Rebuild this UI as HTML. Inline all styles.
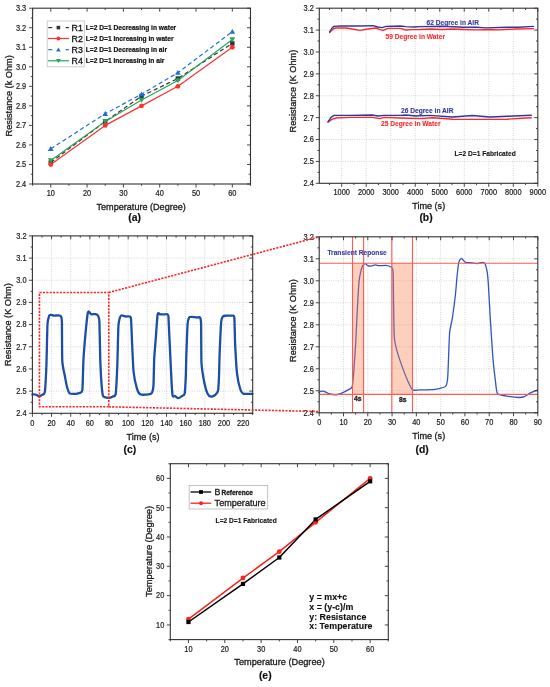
<!DOCTYPE html>
<html><head><meta charset="utf-8"><title>Figure</title>
<style>
html,body{margin:0;padding:0;background:#fff;}
body{width:550px;height:687px;overflow:hidden;}
svg{display:block;font-family:"Liberation Sans", Arial, sans-serif;}
</style></head>
<body>
<svg width="550" height="687" viewBox="0 0 550 687">
<rect width="550" height="687" fill="#fff"/>
<polyline points="50.76,162.51 105.23,121.49 141.55,96.1 177.87,78.52 232.34,43.36" fill="none" stroke="#333333" stroke-width="1.2" stroke-linejoin="round" stroke-dasharray="4.2 2.8" stroke-linecap="butt"/>
<polyline points="50.76,164.47 105.23,125.4 141.55,105.87 177.87,86.33 232.34,47.27" fill="none" stroke="#ff3030" stroke-width="1.2" stroke-linejoin="round" stroke-linecap="round"/>
<polyline points="50.76,148.84 105.23,113.68 141.55,94.15 177.87,72.66 232.34,31.64" fill="none" stroke="#1f6fd6" stroke-width="1.2" stroke-linejoin="round" stroke-dasharray="4.2 2.8" stroke-linecap="butt"/>
<polyline points="50.76,160.56 105.23,121.49 141.55,100.01 177.87,80.47 232.34,39.45" fill="none" stroke="#22a85a" stroke-width="1.2" stroke-linejoin="round" stroke-linecap="round"/>
<rect x="48.56" y="160.31" width="4.4" height="4.4" fill="#333333"/>
<rect x="103.03" y="119.29" width="4.4" height="4.4" fill="#333333"/>
<rect x="139.35" y="93.9" width="4.4" height="4.4" fill="#333333"/>
<rect x="175.67" y="76.32" width="4.4" height="4.4" fill="#333333"/>
<rect x="230.14" y="41.16" width="4.4" height="4.4" fill="#333333"/>
<circle cx="50.76" cy="164.47" r="2.42" fill="#ff3030"/>
<circle cx="105.23" cy="125.4" r="2.42" fill="#ff3030"/>
<circle cx="141.55" cy="105.87" r="2.42" fill="#ff3030"/>
<circle cx="177.87" cy="86.33" r="2.42" fill="#ff3030"/>
<circle cx="232.34" cy="47.27" r="2.42" fill="#ff3030"/>
<polygon points="50.76,146.09 47.87,151.04 53.65,151.04" fill="#1f6fd6"/>
<polygon points="105.23,110.93 102.35,115.88 108.12,115.88" fill="#1f6fd6"/>
<polygon points="141.55,91.4 138.66,96.35 144.44,96.35" fill="#1f6fd6"/>
<polygon points="177.87,69.91 174.98,74.86 180.75,74.86" fill="#1f6fd6"/>
<polygon points="232.34,28.89 229.45,33.84 235.23,33.84" fill="#1f6fd6"/>
<polygon points="50.76,163.31 47.87,158.36 53.65,158.36" fill="#22a85a"/>
<polygon points="105.23,124.24 102.35,119.29 108.12,119.29" fill="#22a85a"/>
<polygon points="141.55,102.76 138.66,97.81 144.44,97.81" fill="#22a85a"/>
<polygon points="177.87,83.22 174.98,78.27 180.75,78.27" fill="#22a85a"/>
<polygon points="232.34,42.2 229.45,37.25 235.23,37.25" fill="#22a85a"/>
<rect x="32.6" y="8.2" width="217.9" height="175.8" fill="none" stroke="#333" stroke-width="1.1"/>
<line x1="50.76" y1="184" x2="50.76" y2="187.5" stroke="#333" stroke-width="0.9"/>
<line x1="50.76" y1="8.2" x2="50.76" y2="11.7" stroke="#333" stroke-width="0.9"/>
<line x1="87.08" y1="184" x2="87.08" y2="187.5" stroke="#333" stroke-width="0.9"/>
<line x1="87.08" y1="8.2" x2="87.08" y2="11.7" stroke="#333" stroke-width="0.9"/>
<line x1="123.39" y1="184" x2="123.39" y2="187.5" stroke="#333" stroke-width="0.9"/>
<line x1="123.39" y1="8.2" x2="123.39" y2="11.7" stroke="#333" stroke-width="0.9"/>
<line x1="159.71" y1="184" x2="159.71" y2="187.5" stroke="#333" stroke-width="0.9"/>
<line x1="159.71" y1="8.2" x2="159.71" y2="11.7" stroke="#333" stroke-width="0.9"/>
<line x1="196.03" y1="184" x2="196.03" y2="187.5" stroke="#333" stroke-width="0.9"/>
<line x1="196.03" y1="8.2" x2="196.03" y2="11.7" stroke="#333" stroke-width="0.9"/>
<line x1="232.34" y1="184" x2="232.34" y2="187.5" stroke="#333" stroke-width="0.9"/>
<line x1="232.34" y1="8.2" x2="232.34" y2="11.7" stroke="#333" stroke-width="0.9"/>
<line x1="32.6" y1="184" x2="32.6" y2="185.8" stroke="#333" stroke-width="0.9"/>
<line x1="32.6" y1="8.2" x2="32.6" y2="10" stroke="#333" stroke-width="0.9"/>
<line x1="68.92" y1="184" x2="68.92" y2="185.8" stroke="#333" stroke-width="0.9"/>
<line x1="68.92" y1="8.2" x2="68.92" y2="10" stroke="#333" stroke-width="0.9"/>
<line x1="105.23" y1="184" x2="105.23" y2="185.8" stroke="#333" stroke-width="0.9"/>
<line x1="105.23" y1="8.2" x2="105.23" y2="10" stroke="#333" stroke-width="0.9"/>
<line x1="141.55" y1="184" x2="141.55" y2="185.8" stroke="#333" stroke-width="0.9"/>
<line x1="141.55" y1="8.2" x2="141.55" y2="10" stroke="#333" stroke-width="0.9"/>
<line x1="177.87" y1="184" x2="177.87" y2="185.8" stroke="#333" stroke-width="0.9"/>
<line x1="177.87" y1="8.2" x2="177.87" y2="10" stroke="#333" stroke-width="0.9"/>
<line x1="214.18" y1="184" x2="214.18" y2="185.8" stroke="#333" stroke-width="0.9"/>
<line x1="214.18" y1="8.2" x2="214.18" y2="10" stroke="#333" stroke-width="0.9"/>
<line x1="250.5" y1="184" x2="250.5" y2="185.8" stroke="#333" stroke-width="0.9"/>
<line x1="250.5" y1="8.2" x2="250.5" y2="10" stroke="#333" stroke-width="0.9"/>
<line x1="29.1" y1="184" x2="32.6" y2="184" stroke="#333" stroke-width="0.9"/>
<line x1="247" y1="184" x2="250.5" y2="184" stroke="#333" stroke-width="0.9"/>
<line x1="29.1" y1="164.47" x2="32.6" y2="164.47" stroke="#333" stroke-width="0.9"/>
<line x1="247" y1="164.47" x2="250.5" y2="164.47" stroke="#333" stroke-width="0.9"/>
<line x1="29.1" y1="144.93" x2="32.6" y2="144.93" stroke="#333" stroke-width="0.9"/>
<line x1="247" y1="144.93" x2="250.5" y2="144.93" stroke="#333" stroke-width="0.9"/>
<line x1="29.1" y1="125.4" x2="32.6" y2="125.4" stroke="#333" stroke-width="0.9"/>
<line x1="247" y1="125.4" x2="250.5" y2="125.4" stroke="#333" stroke-width="0.9"/>
<line x1="29.1" y1="105.87" x2="32.6" y2="105.87" stroke="#333" stroke-width="0.9"/>
<line x1="247" y1="105.87" x2="250.5" y2="105.87" stroke="#333" stroke-width="0.9"/>
<line x1="29.1" y1="86.33" x2="32.6" y2="86.33" stroke="#333" stroke-width="0.9"/>
<line x1="247" y1="86.33" x2="250.5" y2="86.33" stroke="#333" stroke-width="0.9"/>
<line x1="29.1" y1="66.8" x2="32.6" y2="66.8" stroke="#333" stroke-width="0.9"/>
<line x1="247" y1="66.8" x2="250.5" y2="66.8" stroke="#333" stroke-width="0.9"/>
<line x1="29.1" y1="47.27" x2="32.6" y2="47.27" stroke="#333" stroke-width="0.9"/>
<line x1="247" y1="47.27" x2="250.5" y2="47.27" stroke="#333" stroke-width="0.9"/>
<line x1="29.1" y1="27.73" x2="32.6" y2="27.73" stroke="#333" stroke-width="0.9"/>
<line x1="247" y1="27.73" x2="250.5" y2="27.73" stroke="#333" stroke-width="0.9"/>
<line x1="29.1" y1="8.2" x2="32.6" y2="8.2" stroke="#333" stroke-width="0.9"/>
<line x1="247" y1="8.2" x2="250.5" y2="8.2" stroke="#333" stroke-width="0.9"/>
<line x1="30.8" y1="174.23" x2="32.6" y2="174.23" stroke="#333" stroke-width="0.9"/>
<line x1="248.7" y1="174.23" x2="250.5" y2="174.23" stroke="#333" stroke-width="0.9"/>
<line x1="30.8" y1="154.7" x2="32.6" y2="154.7" stroke="#333" stroke-width="0.9"/>
<line x1="248.7" y1="154.7" x2="250.5" y2="154.7" stroke="#333" stroke-width="0.9"/>
<line x1="30.8" y1="135.17" x2="32.6" y2="135.17" stroke="#333" stroke-width="0.9"/>
<line x1="248.7" y1="135.17" x2="250.5" y2="135.17" stroke="#333" stroke-width="0.9"/>
<line x1="30.8" y1="115.63" x2="32.6" y2="115.63" stroke="#333" stroke-width="0.9"/>
<line x1="248.7" y1="115.63" x2="250.5" y2="115.63" stroke="#333" stroke-width="0.9"/>
<line x1="30.8" y1="96.1" x2="32.6" y2="96.1" stroke="#333" stroke-width="0.9"/>
<line x1="248.7" y1="96.1" x2="250.5" y2="96.1" stroke="#333" stroke-width="0.9"/>
<line x1="30.8" y1="76.57" x2="32.6" y2="76.57" stroke="#333" stroke-width="0.9"/>
<line x1="248.7" y1="76.57" x2="250.5" y2="76.57" stroke="#333" stroke-width="0.9"/>
<line x1="30.8" y1="57.03" x2="32.6" y2="57.03" stroke="#333" stroke-width="0.9"/>
<line x1="248.7" y1="57.03" x2="250.5" y2="57.03" stroke="#333" stroke-width="0.9"/>
<line x1="30.8" y1="37.5" x2="32.6" y2="37.5" stroke="#333" stroke-width="0.9"/>
<line x1="248.7" y1="37.5" x2="250.5" y2="37.5" stroke="#333" stroke-width="0.9"/>
<line x1="30.8" y1="17.97" x2="32.6" y2="17.97" stroke="#333" stroke-width="0.9"/>
<line x1="248.7" y1="17.97" x2="250.5" y2="17.97" stroke="#333" stroke-width="0.9"/>
<text transform="translate(50.76 195.7) scale(1 1.12)" font-size="7.4" text-anchor="middle" fill="#1a1a1a" stroke="#1a1a1a" stroke-width="0.18">10</text>
<text transform="translate(87.08 195.7) scale(1 1.12)" font-size="7.4" text-anchor="middle" fill="#1a1a1a" stroke="#1a1a1a" stroke-width="0.18">20</text>
<text transform="translate(123.39 195.7) scale(1 1.12)" font-size="7.4" text-anchor="middle" fill="#1a1a1a" stroke="#1a1a1a" stroke-width="0.18">30</text>
<text transform="translate(159.71 195.7) scale(1 1.12)" font-size="7.4" text-anchor="middle" fill="#1a1a1a" stroke="#1a1a1a" stroke-width="0.18">40</text>
<text transform="translate(196.03 195.7) scale(1 1.12)" font-size="7.4" text-anchor="middle" fill="#1a1a1a" stroke="#1a1a1a" stroke-width="0.18">50</text>
<text transform="translate(232.34 195.7) scale(1 1.12)" font-size="7.4" text-anchor="middle" fill="#1a1a1a" stroke="#1a1a1a" stroke-width="0.18">60</text>
<text transform="translate(26.2 186.87) scale(1 1.12)" font-size="7.4" text-anchor="end" fill="#1a1a1a" stroke="#1a1a1a" stroke-width="0.18">2.4</text>
<text transform="translate(26.2 167.33) scale(1 1.12)" font-size="7.4" text-anchor="end" fill="#1a1a1a" stroke="#1a1a1a" stroke-width="0.18">2.5</text>
<text transform="translate(26.2 147.8) scale(1 1.12)" font-size="7.4" text-anchor="end" fill="#1a1a1a" stroke="#1a1a1a" stroke-width="0.18">2.6</text>
<text transform="translate(26.2 128.27) scale(1 1.12)" font-size="7.4" text-anchor="end" fill="#1a1a1a" stroke="#1a1a1a" stroke-width="0.18">2.7</text>
<text transform="translate(26.2 108.73) scale(1 1.12)" font-size="7.4" text-anchor="end" fill="#1a1a1a" stroke="#1a1a1a" stroke-width="0.18">2.8</text>
<text transform="translate(26.2 89.2) scale(1 1.12)" font-size="7.4" text-anchor="end" fill="#1a1a1a" stroke="#1a1a1a" stroke-width="0.18">2.9</text>
<text transform="translate(26.2 69.67) scale(1 1.12)" font-size="7.4" text-anchor="end" fill="#1a1a1a" stroke="#1a1a1a" stroke-width="0.18">3.0</text>
<text transform="translate(26.2 50.13) scale(1 1.12)" font-size="7.4" text-anchor="end" fill="#1a1a1a" stroke="#1a1a1a" stroke-width="0.18">3.1</text>
<text transform="translate(26.2 30.6) scale(1 1.12)" font-size="7.4" text-anchor="end" fill="#1a1a1a" stroke="#1a1a1a" stroke-width="0.18">3.2</text>
<text transform="translate(26.2 11.07) scale(1 1.12)" font-size="7.4" text-anchor="end" fill="#1a1a1a" stroke="#1a1a1a" stroke-width="0.18">3.3</text>
<rect x="47.2" y="21.0" width="37.1" height="45.8" fill="#fff" stroke="#c8c8c8" stroke-width="0.9"/>
<line x1="48.3" y1="27.6" x2="52.3" y2="27.6" stroke="#333333" stroke-width="1.2"/>
<line x1="65.6" y1="27.6" x2="69" y2="27.6" stroke="#333333" stroke-width="1.2"/>
<rect x="56.6" y="25.8" width="3.6" height="3.6" fill="#333333"/>
<text transform="translate(71.6 30.97) scale(1 1.07)" font-size="8.8" text-anchor="start" fill="#111" stroke="#111" stroke-width="0.3">R1</text>
<text transform="translate(85.8 29.8) scale(1 1.12)" font-size="6.65" text-anchor="start" font-weight="bold" fill="#111" stroke="#111" stroke-width="0.2">L=2 D=1 Decreasing in water</text>
<line x1="48.1" y1="38.5" x2="69" y2="38.5" stroke="#ff3030" stroke-width="1.2"/>
<circle cx="58.4" cy="38.5" r="1.98" fill="#ff3030"/>
<text transform="translate(71.6 41.87) scale(1 1.07)" font-size="8.8" text-anchor="start" fill="#111" stroke="#111" stroke-width="0.3">R2</text>
<text transform="translate(85.8 40.7) scale(1 1.12)" font-size="6.65" text-anchor="start" font-weight="bold" fill="#111" stroke="#111" stroke-width="0.2">L=2 D=1 Increasing in water</text>
<line x1="48.3" y1="49.7" x2="52.3" y2="49.7" stroke="#1f6fd6" stroke-width="1.2"/>
<line x1="65.6" y1="49.7" x2="69" y2="49.7" stroke="#1f6fd6" stroke-width="1.2"/>
<polygon points="58.4,47.45 56.04,51.5 60.76,51.5" fill="#1f6fd6"/>
<text transform="translate(71.6 53.07) scale(1 1.07)" font-size="8.8" text-anchor="start" fill="#111" stroke="#111" stroke-width="0.3">R3</text>
<text transform="translate(85.8 51.9) scale(1 1.12)" font-size="6.65" text-anchor="start" font-weight="bold" fill="#111" stroke="#111" stroke-width="0.2">L=2 D=1 Decreasing in air</text>
<line x1="48.1" y1="60.8" x2="69" y2="60.8" stroke="#22a85a" stroke-width="1.2"/>
<polygon points="58.4,63.05 56.04,59 60.76,59" fill="#22a85a"/>
<text transform="translate(71.6 64.17) scale(1 1.07)" font-size="8.8" text-anchor="start" fill="#111" stroke="#111" stroke-width="0.3">R4</text>
<text transform="translate(85.8 63) scale(1 1.12)" font-size="6.65" text-anchor="start" font-weight="bold" fill="#111" stroke="#111" stroke-width="0.2">L=2 D=1 Increasing in air</text>
<text transform="translate(141.2 209.8) scale(1 1.07)" font-size="9.1" text-anchor="middle" fill="#1a1a1a" stroke="#1a1a1a" stroke-width="0.3">Temperature (Degree)</text>
<text transform="translate(134.65 220.8) scale(1 1)" font-size="10.4" text-anchor="middle" font-weight="bold" fill="#111" stroke="#111" stroke-width="0.15">(a)</text>
<text x="0" y="0" font-size="9.2" fill="#1a1a1a" stroke="#1a1a1a" stroke-width="0.3" transform="translate(12.3 136.4) rotate(-90) scale(1 1)">Resistance (k Ohm)</text>
<line x1="341.7" y1="8.2" x2="341.7" y2="183.3" stroke="#c6c6c6" stroke-width="0.8" stroke-dasharray="0.9 1.45"/>
<line x1="366.21" y1="8.2" x2="366.21" y2="183.3" stroke="#c6c6c6" stroke-width="0.8" stroke-dasharray="0.9 1.45"/>
<line x1="390.72" y1="8.2" x2="390.72" y2="183.3" stroke="#c6c6c6" stroke-width="0.8" stroke-dasharray="0.9 1.45"/>
<line x1="415.24" y1="8.2" x2="415.24" y2="183.3" stroke="#c6c6c6" stroke-width="0.8" stroke-dasharray="0.9 1.45"/>
<line x1="439.75" y1="8.2" x2="439.75" y2="183.3" stroke="#c6c6c6" stroke-width="0.8" stroke-dasharray="0.9 1.45"/>
<line x1="464.26" y1="8.2" x2="464.26" y2="183.3" stroke="#c6c6c6" stroke-width="0.8" stroke-dasharray="0.9 1.45"/>
<line x1="488.77" y1="8.2" x2="488.77" y2="183.3" stroke="#c6c6c6" stroke-width="0.8" stroke-dasharray="0.9 1.45"/>
<line x1="513.29" y1="8.2" x2="513.29" y2="183.3" stroke="#c6c6c6" stroke-width="0.8" stroke-dasharray="0.9 1.45"/>
<line x1="319.3" y1="161.41" x2="537.8" y2="161.41" stroke="#c6c6c6" stroke-width="0.8" stroke-dasharray="0.9 1.45"/>
<line x1="319.3" y1="139.52" x2="537.8" y2="139.52" stroke="#c6c6c6" stroke-width="0.8" stroke-dasharray="0.9 1.45"/>
<line x1="319.3" y1="117.64" x2="537.8" y2="117.64" stroke="#c6c6c6" stroke-width="0.8" stroke-dasharray="0.9 1.45"/>
<line x1="319.3" y1="95.75" x2="537.8" y2="95.75" stroke="#c6c6c6" stroke-width="0.8" stroke-dasharray="0.9 1.45"/>
<line x1="319.3" y1="73.86" x2="537.8" y2="73.86" stroke="#c6c6c6" stroke-width="0.8" stroke-dasharray="0.9 1.45"/>
<line x1="319.3" y1="51.98" x2="537.8" y2="51.98" stroke="#c6c6c6" stroke-width="0.8" stroke-dasharray="0.9 1.45"/>
<line x1="319.3" y1="30.09" x2="537.8" y2="30.09" stroke="#c6c6c6" stroke-width="0.8" stroke-dasharray="0.9 1.45"/>
<polyline points="329.6,32.4 333,29 336,28 346,28 352,29 360,30.4 368,29 376,28 380,29.6 383,30.4 388,28.4 400,28.4 406,30 412,29.6 420,29.5 431,29 441.8,29.5 452.7,29 463.6,29.5 476.7,29.9 489.8,29.5 498.5,29.9 516,29 533.5,28.6" fill="none" stroke="#ff2828" stroke-width="1.4" stroke-linejoin="round" stroke-linecap="round"/>
<polyline points="329.6,32 332,28 334,26.4 340,26 360,26 373,25.6 378,27 382,27.6 386,26.4 400,26 406,26.6 414,27 420,26.6 441.8,26.2 463.6,27.3 476.7,27.3 485.5,27.9 507.3,27.3 518.2,27.3 533.5,26.4" fill="none" stroke="#3236a0" stroke-width="1.4" stroke-linejoin="round" stroke-linecap="round"/>
<polyline points="328,122 332,119.4 336,118 350,117.4 372,117.4 380,118.6 384,117.4 400,118 420,118.6 433,117.7 452.7,119.2 485.5,119.4 507.3,119.2 531.3,117.7" fill="none" stroke="#ff2828" stroke-width="1.4" stroke-linejoin="round" stroke-linecap="round"/>
<polyline points="328,122 331,117.4 334,115.4 350,115.4 372,115 378,116 384,115.4 400,115.4 406,115 416,116 430,115.4 452.7,117 472.4,115.5 489.8,117 507.3,116.3 531.3,115.3" fill="none" stroke="#3236a0" stroke-width="1.4" stroke-linejoin="round" stroke-linecap="round"/>
<rect x="319.3" y="8.2" width="218.5" height="175.1" fill="none" stroke="#333" stroke-width="1.1"/>
<line x1="341.7" y1="183.3" x2="341.7" y2="186.8" stroke="#333" stroke-width="0.9"/>
<line x1="341.7" y1="8.2" x2="341.7" y2="11.7" stroke="#333" stroke-width="0.9"/>
<line x1="366.21" y1="183.3" x2="366.21" y2="186.8" stroke="#333" stroke-width="0.9"/>
<line x1="366.21" y1="8.2" x2="366.21" y2="11.7" stroke="#333" stroke-width="0.9"/>
<line x1="390.72" y1="183.3" x2="390.72" y2="186.8" stroke="#333" stroke-width="0.9"/>
<line x1="390.72" y1="8.2" x2="390.72" y2="11.7" stroke="#333" stroke-width="0.9"/>
<line x1="415.24" y1="183.3" x2="415.24" y2="186.8" stroke="#333" stroke-width="0.9"/>
<line x1="415.24" y1="8.2" x2="415.24" y2="11.7" stroke="#333" stroke-width="0.9"/>
<line x1="439.75" y1="183.3" x2="439.75" y2="186.8" stroke="#333" stroke-width="0.9"/>
<line x1="439.75" y1="8.2" x2="439.75" y2="11.7" stroke="#333" stroke-width="0.9"/>
<line x1="464.26" y1="183.3" x2="464.26" y2="186.8" stroke="#333" stroke-width="0.9"/>
<line x1="464.26" y1="8.2" x2="464.26" y2="11.7" stroke="#333" stroke-width="0.9"/>
<line x1="488.77" y1="183.3" x2="488.77" y2="186.8" stroke="#333" stroke-width="0.9"/>
<line x1="488.77" y1="8.2" x2="488.77" y2="11.7" stroke="#333" stroke-width="0.9"/>
<line x1="513.29" y1="183.3" x2="513.29" y2="186.8" stroke="#333" stroke-width="0.9"/>
<line x1="513.29" y1="8.2" x2="513.29" y2="11.7" stroke="#333" stroke-width="0.9"/>
<line x1="537.8" y1="183.3" x2="537.8" y2="186.8" stroke="#333" stroke-width="0.9"/>
<line x1="537.8" y1="8.2" x2="537.8" y2="11.7" stroke="#333" stroke-width="0.9"/>
<line x1="329.44" y1="183.3" x2="329.44" y2="185.1" stroke="#333" stroke-width="0.9"/>
<line x1="329.44" y1="8.2" x2="329.44" y2="10" stroke="#333" stroke-width="0.9"/>
<line x1="353.96" y1="183.3" x2="353.96" y2="185.1" stroke="#333" stroke-width="0.9"/>
<line x1="353.96" y1="8.2" x2="353.96" y2="10" stroke="#333" stroke-width="0.9"/>
<line x1="378.47" y1="183.3" x2="378.47" y2="185.1" stroke="#333" stroke-width="0.9"/>
<line x1="378.47" y1="8.2" x2="378.47" y2="10" stroke="#333" stroke-width="0.9"/>
<line x1="402.98" y1="183.3" x2="402.98" y2="185.1" stroke="#333" stroke-width="0.9"/>
<line x1="402.98" y1="8.2" x2="402.98" y2="10" stroke="#333" stroke-width="0.9"/>
<line x1="427.49" y1="183.3" x2="427.49" y2="185.1" stroke="#333" stroke-width="0.9"/>
<line x1="427.49" y1="8.2" x2="427.49" y2="10" stroke="#333" stroke-width="0.9"/>
<line x1="452.01" y1="183.3" x2="452.01" y2="185.1" stroke="#333" stroke-width="0.9"/>
<line x1="452.01" y1="8.2" x2="452.01" y2="10" stroke="#333" stroke-width="0.9"/>
<line x1="476.52" y1="183.3" x2="476.52" y2="185.1" stroke="#333" stroke-width="0.9"/>
<line x1="476.52" y1="8.2" x2="476.52" y2="10" stroke="#333" stroke-width="0.9"/>
<line x1="501.03" y1="183.3" x2="501.03" y2="185.1" stroke="#333" stroke-width="0.9"/>
<line x1="501.03" y1="8.2" x2="501.03" y2="10" stroke="#333" stroke-width="0.9"/>
<line x1="525.54" y1="183.3" x2="525.54" y2="185.1" stroke="#333" stroke-width="0.9"/>
<line x1="525.54" y1="8.2" x2="525.54" y2="10" stroke="#333" stroke-width="0.9"/>
<line x1="315.8" y1="183.3" x2="319.3" y2="183.3" stroke="#333" stroke-width="0.9"/>
<line x1="534.3" y1="183.3" x2="537.8" y2="183.3" stroke="#333" stroke-width="0.9"/>
<line x1="315.8" y1="161.41" x2="319.3" y2="161.41" stroke="#333" stroke-width="0.9"/>
<line x1="534.3" y1="161.41" x2="537.8" y2="161.41" stroke="#333" stroke-width="0.9"/>
<line x1="315.8" y1="139.52" x2="319.3" y2="139.52" stroke="#333" stroke-width="0.9"/>
<line x1="534.3" y1="139.52" x2="537.8" y2="139.52" stroke="#333" stroke-width="0.9"/>
<line x1="315.8" y1="117.64" x2="319.3" y2="117.64" stroke="#333" stroke-width="0.9"/>
<line x1="534.3" y1="117.64" x2="537.8" y2="117.64" stroke="#333" stroke-width="0.9"/>
<line x1="315.8" y1="95.75" x2="319.3" y2="95.75" stroke="#333" stroke-width="0.9"/>
<line x1="534.3" y1="95.75" x2="537.8" y2="95.75" stroke="#333" stroke-width="0.9"/>
<line x1="315.8" y1="73.86" x2="319.3" y2="73.86" stroke="#333" stroke-width="0.9"/>
<line x1="534.3" y1="73.86" x2="537.8" y2="73.86" stroke="#333" stroke-width="0.9"/>
<line x1="315.8" y1="51.98" x2="319.3" y2="51.98" stroke="#333" stroke-width="0.9"/>
<line x1="534.3" y1="51.98" x2="537.8" y2="51.98" stroke="#333" stroke-width="0.9"/>
<line x1="315.8" y1="30.09" x2="319.3" y2="30.09" stroke="#333" stroke-width="0.9"/>
<line x1="534.3" y1="30.09" x2="537.8" y2="30.09" stroke="#333" stroke-width="0.9"/>
<line x1="315.8" y1="8.2" x2="319.3" y2="8.2" stroke="#333" stroke-width="0.9"/>
<line x1="534.3" y1="8.2" x2="537.8" y2="8.2" stroke="#333" stroke-width="0.9"/>
<line x1="317.5" y1="172.36" x2="319.3" y2="172.36" stroke="#333" stroke-width="0.9"/>
<line x1="536" y1="172.36" x2="537.8" y2="172.36" stroke="#333" stroke-width="0.9"/>
<line x1="317.5" y1="150.47" x2="319.3" y2="150.47" stroke="#333" stroke-width="0.9"/>
<line x1="536" y1="150.47" x2="537.8" y2="150.47" stroke="#333" stroke-width="0.9"/>
<line x1="317.5" y1="128.58" x2="319.3" y2="128.58" stroke="#333" stroke-width="0.9"/>
<line x1="536" y1="128.58" x2="537.8" y2="128.58" stroke="#333" stroke-width="0.9"/>
<line x1="317.5" y1="106.69" x2="319.3" y2="106.69" stroke="#333" stroke-width="0.9"/>
<line x1="536" y1="106.69" x2="537.8" y2="106.69" stroke="#333" stroke-width="0.9"/>
<line x1="317.5" y1="84.81" x2="319.3" y2="84.81" stroke="#333" stroke-width="0.9"/>
<line x1="536" y1="84.81" x2="537.8" y2="84.81" stroke="#333" stroke-width="0.9"/>
<line x1="317.5" y1="62.92" x2="319.3" y2="62.92" stroke="#333" stroke-width="0.9"/>
<line x1="536" y1="62.92" x2="537.8" y2="62.92" stroke="#333" stroke-width="0.9"/>
<line x1="317.5" y1="41.03" x2="319.3" y2="41.03" stroke="#333" stroke-width="0.9"/>
<line x1="536" y1="41.03" x2="537.8" y2="41.03" stroke="#333" stroke-width="0.9"/>
<line x1="317.5" y1="19.14" x2="319.3" y2="19.14" stroke="#333" stroke-width="0.9"/>
<line x1="536" y1="19.14" x2="537.8" y2="19.14" stroke="#333" stroke-width="0.9"/>
<text transform="translate(341.7 195.3) scale(1 1.12)" font-size="7.4" text-anchor="middle" fill="#1a1a1a" stroke="#1a1a1a" stroke-width="0.18">1000</text>
<text transform="translate(366.21 195.3) scale(1 1.12)" font-size="7.4" text-anchor="middle" fill="#1a1a1a" stroke="#1a1a1a" stroke-width="0.18">2000</text>
<text transform="translate(390.72 195.3) scale(1 1.12)" font-size="7.4" text-anchor="middle" fill="#1a1a1a" stroke="#1a1a1a" stroke-width="0.18">3000</text>
<text transform="translate(415.24 195.3) scale(1 1.12)" font-size="7.4" text-anchor="middle" fill="#1a1a1a" stroke="#1a1a1a" stroke-width="0.18">4000</text>
<text transform="translate(439.75 195.3) scale(1 1.12)" font-size="7.4" text-anchor="middle" fill="#1a1a1a" stroke="#1a1a1a" stroke-width="0.18">5000</text>
<text transform="translate(464.26 195.3) scale(1 1.12)" font-size="7.4" text-anchor="middle" fill="#1a1a1a" stroke="#1a1a1a" stroke-width="0.18">6000</text>
<text transform="translate(488.77 195.3) scale(1 1.12)" font-size="7.4" text-anchor="middle" fill="#1a1a1a" stroke="#1a1a1a" stroke-width="0.18">7000</text>
<text transform="translate(513.29 195.3) scale(1 1.12)" font-size="7.4" text-anchor="middle" fill="#1a1a1a" stroke="#1a1a1a" stroke-width="0.18">8000</text>
<text transform="translate(537.8 195.3) scale(1 1.12)" font-size="7.4" text-anchor="middle" fill="#1a1a1a" stroke="#1a1a1a" stroke-width="0.18">9000</text>
<text transform="translate(313.8 186.17) scale(1 1.12)" font-size="7.4" text-anchor="end" fill="#1a1a1a" stroke="#1a1a1a" stroke-width="0.18">2.4</text>
<text transform="translate(313.8 164.28) scale(1 1.12)" font-size="7.4" text-anchor="end" fill="#1a1a1a" stroke="#1a1a1a" stroke-width="0.18">2.5</text>
<text transform="translate(313.8 142.39) scale(1 1.12)" font-size="7.4" text-anchor="end" fill="#1a1a1a" stroke="#1a1a1a" stroke-width="0.18">2.6</text>
<text transform="translate(313.8 120.5) scale(1 1.12)" font-size="7.4" text-anchor="end" fill="#1a1a1a" stroke="#1a1a1a" stroke-width="0.18">2.7</text>
<text transform="translate(313.8 98.62) scale(1 1.12)" font-size="7.4" text-anchor="end" fill="#1a1a1a" stroke="#1a1a1a" stroke-width="0.18">2.8</text>
<text transform="translate(313.8 76.73) scale(1 1.12)" font-size="7.4" text-anchor="end" fill="#1a1a1a" stroke="#1a1a1a" stroke-width="0.18">2.9</text>
<text transform="translate(313.8 54.84) scale(1 1.12)" font-size="7.4" text-anchor="end" fill="#1a1a1a" stroke="#1a1a1a" stroke-width="0.18">3.0</text>
<text transform="translate(313.8 32.95) scale(1 1.12)" font-size="7.4" text-anchor="end" fill="#1a1a1a" stroke="#1a1a1a" stroke-width="0.18">3.1</text>
<text transform="translate(313.8 11.07) scale(1 1.12)" font-size="7.4" text-anchor="end" fill="#1a1a1a" stroke="#1a1a1a" stroke-width="0.18">3.2</text>
<text transform="translate(426.5 24.9) scale(1 1.07)" font-size="6.65" text-anchor="start" font-weight="bold" fill="#3236a0" stroke="#3236a0" stroke-width="0.1">62 Degree in AIR</text>
<text transform="translate(385.5 39) scale(1 1.07)" font-size="6.65" text-anchor="start" font-weight="bold" fill="#ff2828" stroke="#ff2828" stroke-width="0.1">59 Degree in Water</text>
<text transform="translate(401 113) scale(1 1.07)" font-size="6.65" text-anchor="start" font-weight="bold" fill="#3236a0" stroke="#3236a0" stroke-width="0.1">26 Degree in AIR</text>
<text transform="translate(381 125.8) scale(1 1.07)" font-size="6.65" text-anchor="start" font-weight="bold" fill="#ff2828" stroke="#ff2828" stroke-width="0.1">25 Degree in Water</text>
<text transform="translate(454.5 156) scale(1 1.07)" font-size="6.65" text-anchor="start" font-weight="bold" fill="#111" stroke="#111" stroke-width="0.1">L=2 D=1 Fabricated</text>
<text transform="translate(428.7 209.2) scale(1 1.07)" font-size="9.1" text-anchor="middle" fill="#1a1a1a" stroke="#1a1a1a" stroke-width="0.3">Time (s)</text>
<text transform="translate(426.05 221) scale(1 1)" font-size="10.4" text-anchor="middle" font-weight="bold" fill="#111" stroke="#111" stroke-width="0.15">(b)</text>
<text x="0" y="0" font-size="9.2" fill="#1a1a1a" stroke="#1a1a1a" stroke-width="0.3" transform="translate(295.5 132.4) rotate(-90) scale(1 1)">Resistance (K Ohm)</text>
<line x1="51.56" y1="235.9" x2="51.56" y2="413.3" stroke="#c6c6c6" stroke-width="0.8" stroke-dasharray="0.9 1.45"/>
<line x1="70.71" y1="235.9" x2="70.71" y2="413.3" stroke="#c6c6c6" stroke-width="0.8" stroke-dasharray="0.9 1.45"/>
<line x1="89.87" y1="235.9" x2="89.87" y2="413.3" stroke="#c6c6c6" stroke-width="0.8" stroke-dasharray="0.9 1.45"/>
<line x1="109.03" y1="235.9" x2="109.03" y2="413.3" stroke="#c6c6c6" stroke-width="0.8" stroke-dasharray="0.9 1.45"/>
<line x1="128.18" y1="235.9" x2="128.18" y2="413.3" stroke="#c6c6c6" stroke-width="0.8" stroke-dasharray="0.9 1.45"/>
<line x1="147.34" y1="235.9" x2="147.34" y2="413.3" stroke="#c6c6c6" stroke-width="0.8" stroke-dasharray="0.9 1.45"/>
<line x1="166.5" y1="235.9" x2="166.5" y2="413.3" stroke="#c6c6c6" stroke-width="0.8" stroke-dasharray="0.9 1.45"/>
<line x1="185.65" y1="235.9" x2="185.65" y2="413.3" stroke="#c6c6c6" stroke-width="0.8" stroke-dasharray="0.9 1.45"/>
<line x1="204.81" y1="235.9" x2="204.81" y2="413.3" stroke="#c6c6c6" stroke-width="0.8" stroke-dasharray="0.9 1.45"/>
<line x1="223.97" y1="235.9" x2="223.97" y2="413.3" stroke="#c6c6c6" stroke-width="0.8" stroke-dasharray="0.9 1.45"/>
<line x1="243.12" y1="235.9" x2="243.12" y2="413.3" stroke="#c6c6c6" stroke-width="0.8" stroke-dasharray="0.9 1.45"/>
<line x1="32.4" y1="391.12" x2="252.7" y2="391.12" stroke="#c6c6c6" stroke-width="0.8" stroke-dasharray="0.9 1.45"/>
<line x1="32.4" y1="368.95" x2="252.7" y2="368.95" stroke="#c6c6c6" stroke-width="0.8" stroke-dasharray="0.9 1.45"/>
<line x1="32.4" y1="346.77" x2="252.7" y2="346.77" stroke="#c6c6c6" stroke-width="0.8" stroke-dasharray="0.9 1.45"/>
<line x1="32.4" y1="324.6" x2="252.7" y2="324.6" stroke="#c6c6c6" stroke-width="0.8" stroke-dasharray="0.9 1.45"/>
<line x1="32.4" y1="302.43" x2="252.7" y2="302.43" stroke="#c6c6c6" stroke-width="0.8" stroke-dasharray="0.9 1.45"/>
<line x1="32.4" y1="280.25" x2="252.7" y2="280.25" stroke="#c6c6c6" stroke-width="0.8" stroke-dasharray="0.9 1.45"/>
<line x1="32.4" y1="258.08" x2="252.7" y2="258.08" stroke="#c6c6c6" stroke-width="0.8" stroke-dasharray="0.9 1.45"/>
<path d="M32.4,394.3 C32.71,394.32 34.82,394.29 35.5,394.5 C36.18,394.71 38.55,396.36 39.2,396.4 C39.85,396.44 41.44,395.33 42,394.9 C42.56,394.47 44.36,395.04 44.8,392.1 C45.24,389.16 46.13,372.31 46.4,365.5 C46.67,358.69 47.22,328.98 47.5,324 C47.78,319.02 48.88,316.62 49.2,315.7 C49.52,314.78 50.22,314.8 50.7,314.8 C51.18,314.8 53.23,315.65 54,315.7 C54.77,315.75 57.7,315.23 58.4,315.3 C59.1,315.37 60.65,315.75 61,316.4 C61.35,317.05 61.77,317.33 61.9,321.8 C62.03,326.27 62,355.64 62.3,361.1 C62.6,366.56 64.42,373.78 64.9,376.4 C65.38,379.02 66.62,385.6 67.1,387.3 C67.58,389 68.83,392.75 69.7,393.4 C70.57,394.05 74.75,393.87 75.8,393.8 C76.85,393.73 79.54,393.13 80.2,392.7 C80.86,392.27 82.07,392.88 82.4,389.5 C82.73,386.12 83.18,364.58 83.5,358.9 C83.82,353.22 85.17,337.32 85.6,332.7 C86.03,328.08 87.43,314.77 87.8,312.7 C88.17,310.63 88.97,311.85 89.3,312 C89.63,312.15 90.48,313.98 91.1,314.2 C91.72,314.42 94.8,314.05 95.5,314.2 C96.2,314.35 97.71,314.94 98.1,315.7 C98.49,316.46 99.18,317.26 99.4,321.8 C99.62,326.34 100.08,354.77 100.3,361.1 C100.52,367.43 101.32,381.61 101.6,385.1 C101.88,388.59 102.41,394.73 103.1,396 C103.79,397.27 107.52,397.76 108.5,397.8 C109.48,397.84 112.18,396.8 112.9,396.4 C113.62,396 115.26,396.89 115.7,393.8 C116.14,390.71 117.03,372.26 117.3,365.5 C117.57,358.74 118.14,331 118.4,326.2 C118.66,321.4 119.58,318.59 119.9,317.5 C120.22,316.41 120.99,315.39 121.6,315.3 C122.21,315.21 125.08,316.38 126,316.6 C126.92,316.82 130.21,315.23 130.8,317.5 C131.39,319.77 131.62,333.85 131.9,339.3 C132.18,344.75 133.1,367.09 133.6,372 C134.1,376.91 136.24,386.17 136.9,388.4 C137.56,390.63 139.02,393.71 140.2,394.3 C141.38,394.89 147.52,394.46 148.7,394.3 C149.88,394.14 151.52,393.62 152,392.7 C152.48,391.78 153.28,388.48 153.5,385.1 C153.72,381.72 153.98,363.48 154.2,358.9 C154.42,354.32 155.37,343.66 155.7,339.3 C156.03,334.94 157.22,317.92 157.5,315.3 C157.78,312.68 158.24,313.19 158.5,313.1 C158.76,313.01 159.55,314.27 160.1,314.4 C160.65,314.53 163.28,314.42 164,314.4 C164.72,314.38 166.86,314 167.3,314.2 C167.74,314.4 168.18,313.89 168.4,316.4 C168.62,318.91 169.18,332.65 169.5,339.3 C169.82,345.95 171.28,377.23 171.6,382.9 C171.92,388.57 172.37,394.69 172.7,396 C173.03,397.31 174.35,395.78 174.9,396 C175.45,396.22 177.54,398.16 178.2,398.2 C178.86,398.24 180.85,396.88 181.5,396.4 C182.15,395.92 184.27,395.4 184.7,393.4 C185.13,391.4 185.64,380.07 185.8,376.4 C185.96,372.73 186.12,361.94 186.3,356.7 C186.48,351.46 187.32,327.92 187.6,324 C187.88,320.08 188.73,318.22 189.1,317.5 C189.47,316.78 190.54,316.8 191.3,316.8 C192.06,316.8 195.83,317.43 196.7,317.5 C197.57,317.57 199.56,316.85 200,317.5 C200.44,318.15 200.95,319.42 201.1,324 C201.25,328.58 201.17,357.41 201.5,363.3 C201.83,369.19 203.79,379.85 204.4,382.9 C205.01,385.95 206.95,392.42 207.6,393.8 C208.25,395.18 210.13,396.59 210.9,396.7 C211.67,396.81 214.58,395.52 215.3,394.9 C216.02,394.28 217.73,392.35 218.1,390.5 C218.47,388.65 218.85,380 219,376.4 C219.15,372.8 219.38,359.96 219.6,354.5 C219.82,349.04 220.87,325.61 221.2,321.8 C221.53,317.99 222.4,317.01 222.9,316.4 C223.4,315.79 225.33,315.77 226.2,315.7 C227.07,315.63 230.79,315.52 231.6,315.7 C232.41,315.88 233.95,314.71 234.3,317.5 C234.65,320.29 234.82,337.93 235.1,343.6 C235.38,349.27 236.57,369.61 237.1,374.2 C237.63,378.79 239.75,387.54 240.4,389.5 C241.05,391.46 242.4,393.37 243.6,393.8 C244.8,394.23 251.52,393.8 252.4,393.8" fill="none" stroke="#1b4ea6" stroke-width="2.3" stroke-linejoin="round" stroke-linecap="round"/>
<rect x="39.45" y="292.5" width="69.3" height="114.3" fill="none" stroke="#ff2222" stroke-width="1.6" stroke-dasharray="2.1 1.3" stroke-linecap="butt"/>
<rect x="32.4" y="235.9" width="220.3" height="177.4" fill="none" stroke="#333" stroke-width="1.1"/>
<line x1="32.4" y1="413.3" x2="32.4" y2="416.8" stroke="#333" stroke-width="0.9"/>
<line x1="32.4" y1="235.9" x2="32.4" y2="239.4" stroke="#333" stroke-width="0.9"/>
<line x1="51.56" y1="413.3" x2="51.56" y2="416.8" stroke="#333" stroke-width="0.9"/>
<line x1="51.56" y1="235.9" x2="51.56" y2="239.4" stroke="#333" stroke-width="0.9"/>
<line x1="70.71" y1="413.3" x2="70.71" y2="416.8" stroke="#333" stroke-width="0.9"/>
<line x1="70.71" y1="235.9" x2="70.71" y2="239.4" stroke="#333" stroke-width="0.9"/>
<line x1="89.87" y1="413.3" x2="89.87" y2="416.8" stroke="#333" stroke-width="0.9"/>
<line x1="89.87" y1="235.9" x2="89.87" y2="239.4" stroke="#333" stroke-width="0.9"/>
<line x1="109.03" y1="413.3" x2="109.03" y2="416.8" stroke="#333" stroke-width="0.9"/>
<line x1="109.03" y1="235.9" x2="109.03" y2="239.4" stroke="#333" stroke-width="0.9"/>
<line x1="128.18" y1="413.3" x2="128.18" y2="416.8" stroke="#333" stroke-width="0.9"/>
<line x1="128.18" y1="235.9" x2="128.18" y2="239.4" stroke="#333" stroke-width="0.9"/>
<line x1="147.34" y1="413.3" x2="147.34" y2="416.8" stroke="#333" stroke-width="0.9"/>
<line x1="147.34" y1="235.9" x2="147.34" y2="239.4" stroke="#333" stroke-width="0.9"/>
<line x1="166.5" y1="413.3" x2="166.5" y2="416.8" stroke="#333" stroke-width="0.9"/>
<line x1="166.5" y1="235.9" x2="166.5" y2="239.4" stroke="#333" stroke-width="0.9"/>
<line x1="185.65" y1="413.3" x2="185.65" y2="416.8" stroke="#333" stroke-width="0.9"/>
<line x1="185.65" y1="235.9" x2="185.65" y2="239.4" stroke="#333" stroke-width="0.9"/>
<line x1="204.81" y1="413.3" x2="204.81" y2="416.8" stroke="#333" stroke-width="0.9"/>
<line x1="204.81" y1="235.9" x2="204.81" y2="239.4" stroke="#333" stroke-width="0.9"/>
<line x1="223.97" y1="413.3" x2="223.97" y2="416.8" stroke="#333" stroke-width="0.9"/>
<line x1="223.97" y1="235.9" x2="223.97" y2="239.4" stroke="#333" stroke-width="0.9"/>
<line x1="243.12" y1="413.3" x2="243.12" y2="416.8" stroke="#333" stroke-width="0.9"/>
<line x1="243.12" y1="235.9" x2="243.12" y2="239.4" stroke="#333" stroke-width="0.9"/>
<line x1="41.98" y1="413.3" x2="41.98" y2="415.1" stroke="#333" stroke-width="0.9"/>
<line x1="41.98" y1="235.9" x2="41.98" y2="237.7" stroke="#333" stroke-width="0.9"/>
<line x1="61.13" y1="413.3" x2="61.13" y2="415.1" stroke="#333" stroke-width="0.9"/>
<line x1="61.13" y1="235.9" x2="61.13" y2="237.7" stroke="#333" stroke-width="0.9"/>
<line x1="80.29" y1="413.3" x2="80.29" y2="415.1" stroke="#333" stroke-width="0.9"/>
<line x1="80.29" y1="235.9" x2="80.29" y2="237.7" stroke="#333" stroke-width="0.9"/>
<line x1="99.45" y1="413.3" x2="99.45" y2="415.1" stroke="#333" stroke-width="0.9"/>
<line x1="99.45" y1="235.9" x2="99.45" y2="237.7" stroke="#333" stroke-width="0.9"/>
<line x1="118.6" y1="413.3" x2="118.6" y2="415.1" stroke="#333" stroke-width="0.9"/>
<line x1="118.6" y1="235.9" x2="118.6" y2="237.7" stroke="#333" stroke-width="0.9"/>
<line x1="137.76" y1="413.3" x2="137.76" y2="415.1" stroke="#333" stroke-width="0.9"/>
<line x1="137.76" y1="235.9" x2="137.76" y2="237.7" stroke="#333" stroke-width="0.9"/>
<line x1="156.92" y1="413.3" x2="156.92" y2="415.1" stroke="#333" stroke-width="0.9"/>
<line x1="156.92" y1="235.9" x2="156.92" y2="237.7" stroke="#333" stroke-width="0.9"/>
<line x1="176.07" y1="413.3" x2="176.07" y2="415.1" stroke="#333" stroke-width="0.9"/>
<line x1="176.07" y1="235.9" x2="176.07" y2="237.7" stroke="#333" stroke-width="0.9"/>
<line x1="195.23" y1="413.3" x2="195.23" y2="415.1" stroke="#333" stroke-width="0.9"/>
<line x1="195.23" y1="235.9" x2="195.23" y2="237.7" stroke="#333" stroke-width="0.9"/>
<line x1="214.39" y1="413.3" x2="214.39" y2="415.1" stroke="#333" stroke-width="0.9"/>
<line x1="214.39" y1="235.9" x2="214.39" y2="237.7" stroke="#333" stroke-width="0.9"/>
<line x1="233.54" y1="413.3" x2="233.54" y2="415.1" stroke="#333" stroke-width="0.9"/>
<line x1="233.54" y1="235.9" x2="233.54" y2="237.7" stroke="#333" stroke-width="0.9"/>
<line x1="252.7" y1="413.3" x2="252.7" y2="415.1" stroke="#333" stroke-width="0.9"/>
<line x1="252.7" y1="235.9" x2="252.7" y2="237.7" stroke="#333" stroke-width="0.9"/>
<line x1="28.9" y1="413.3" x2="32.4" y2="413.3" stroke="#333" stroke-width="0.9"/>
<line x1="249.2" y1="413.3" x2="252.7" y2="413.3" stroke="#333" stroke-width="0.9"/>
<line x1="28.9" y1="391.12" x2="32.4" y2="391.12" stroke="#333" stroke-width="0.9"/>
<line x1="249.2" y1="391.12" x2="252.7" y2="391.12" stroke="#333" stroke-width="0.9"/>
<line x1="28.9" y1="368.95" x2="32.4" y2="368.95" stroke="#333" stroke-width="0.9"/>
<line x1="249.2" y1="368.95" x2="252.7" y2="368.95" stroke="#333" stroke-width="0.9"/>
<line x1="28.9" y1="346.77" x2="32.4" y2="346.77" stroke="#333" stroke-width="0.9"/>
<line x1="249.2" y1="346.77" x2="252.7" y2="346.77" stroke="#333" stroke-width="0.9"/>
<line x1="28.9" y1="324.6" x2="32.4" y2="324.6" stroke="#333" stroke-width="0.9"/>
<line x1="249.2" y1="324.6" x2="252.7" y2="324.6" stroke="#333" stroke-width="0.9"/>
<line x1="28.9" y1="302.43" x2="32.4" y2="302.43" stroke="#333" stroke-width="0.9"/>
<line x1="249.2" y1="302.43" x2="252.7" y2="302.43" stroke="#333" stroke-width="0.9"/>
<line x1="28.9" y1="280.25" x2="32.4" y2="280.25" stroke="#333" stroke-width="0.9"/>
<line x1="249.2" y1="280.25" x2="252.7" y2="280.25" stroke="#333" stroke-width="0.9"/>
<line x1="28.9" y1="258.08" x2="32.4" y2="258.08" stroke="#333" stroke-width="0.9"/>
<line x1="249.2" y1="258.08" x2="252.7" y2="258.08" stroke="#333" stroke-width="0.9"/>
<line x1="28.9" y1="235.9" x2="32.4" y2="235.9" stroke="#333" stroke-width="0.9"/>
<line x1="249.2" y1="235.9" x2="252.7" y2="235.9" stroke="#333" stroke-width="0.9"/>
<line x1="30.6" y1="402.21" x2="32.4" y2="402.21" stroke="#333" stroke-width="0.9"/>
<line x1="250.9" y1="402.21" x2="252.7" y2="402.21" stroke="#333" stroke-width="0.9"/>
<line x1="30.6" y1="380.04" x2="32.4" y2="380.04" stroke="#333" stroke-width="0.9"/>
<line x1="250.9" y1="380.04" x2="252.7" y2="380.04" stroke="#333" stroke-width="0.9"/>
<line x1="30.6" y1="357.86" x2="32.4" y2="357.86" stroke="#333" stroke-width="0.9"/>
<line x1="250.9" y1="357.86" x2="252.7" y2="357.86" stroke="#333" stroke-width="0.9"/>
<line x1="30.6" y1="335.69" x2="32.4" y2="335.69" stroke="#333" stroke-width="0.9"/>
<line x1="250.9" y1="335.69" x2="252.7" y2="335.69" stroke="#333" stroke-width="0.9"/>
<line x1="30.6" y1="313.51" x2="32.4" y2="313.51" stroke="#333" stroke-width="0.9"/>
<line x1="250.9" y1="313.51" x2="252.7" y2="313.51" stroke="#333" stroke-width="0.9"/>
<line x1="30.6" y1="291.34" x2="32.4" y2="291.34" stroke="#333" stroke-width="0.9"/>
<line x1="250.9" y1="291.34" x2="252.7" y2="291.34" stroke="#333" stroke-width="0.9"/>
<line x1="30.6" y1="269.16" x2="32.4" y2="269.16" stroke="#333" stroke-width="0.9"/>
<line x1="250.9" y1="269.16" x2="252.7" y2="269.16" stroke="#333" stroke-width="0.9"/>
<line x1="30.6" y1="246.99" x2="32.4" y2="246.99" stroke="#333" stroke-width="0.9"/>
<line x1="250.9" y1="246.99" x2="252.7" y2="246.99" stroke="#333" stroke-width="0.9"/>
<text transform="translate(32.4 425.6) scale(1 1.12)" font-size="7.4" text-anchor="middle" fill="#1a1a1a" stroke="#1a1a1a" stroke-width="0.18">0</text>
<text transform="translate(51.56 425.6) scale(1 1.12)" font-size="7.4" text-anchor="middle" fill="#1a1a1a" stroke="#1a1a1a" stroke-width="0.18">20</text>
<text transform="translate(70.71 425.6) scale(1 1.12)" font-size="7.4" text-anchor="middle" fill="#1a1a1a" stroke="#1a1a1a" stroke-width="0.18">40</text>
<text transform="translate(89.87 425.6) scale(1 1.12)" font-size="7.4" text-anchor="middle" fill="#1a1a1a" stroke="#1a1a1a" stroke-width="0.18">60</text>
<text transform="translate(109.03 425.6) scale(1 1.12)" font-size="7.4" text-anchor="middle" fill="#1a1a1a" stroke="#1a1a1a" stroke-width="0.18">80</text>
<text transform="translate(128.18 425.6) scale(1 1.12)" font-size="7.4" text-anchor="middle" fill="#1a1a1a" stroke="#1a1a1a" stroke-width="0.18">100</text>
<text transform="translate(147.34 425.6) scale(1 1.12)" font-size="7.4" text-anchor="middle" fill="#1a1a1a" stroke="#1a1a1a" stroke-width="0.18">120</text>
<text transform="translate(166.5 425.6) scale(1 1.12)" font-size="7.4" text-anchor="middle" fill="#1a1a1a" stroke="#1a1a1a" stroke-width="0.18">140</text>
<text transform="translate(185.65 425.6) scale(1 1.12)" font-size="7.4" text-anchor="middle" fill="#1a1a1a" stroke="#1a1a1a" stroke-width="0.18">160</text>
<text transform="translate(204.81 425.6) scale(1 1.12)" font-size="7.4" text-anchor="middle" fill="#1a1a1a" stroke="#1a1a1a" stroke-width="0.18">180</text>
<text transform="translate(223.97 425.6) scale(1 1.12)" font-size="7.4" text-anchor="middle" fill="#1a1a1a" stroke="#1a1a1a" stroke-width="0.18">200</text>
<text transform="translate(243.12 425.6) scale(1 1.12)" font-size="7.4" text-anchor="middle" fill="#1a1a1a" stroke="#1a1a1a" stroke-width="0.18">220</text>
<text transform="translate(26.5 416.17) scale(1 1.12)" font-size="7.4" text-anchor="end" fill="#1a1a1a" stroke="#1a1a1a" stroke-width="0.18">2.4</text>
<text transform="translate(26.5 393.99) scale(1 1.12)" font-size="7.4" text-anchor="end" fill="#1a1a1a" stroke="#1a1a1a" stroke-width="0.18">2.5</text>
<text transform="translate(26.5 371.82) scale(1 1.12)" font-size="7.4" text-anchor="end" fill="#1a1a1a" stroke="#1a1a1a" stroke-width="0.18">2.6</text>
<text transform="translate(26.5 349.64) scale(1 1.12)" font-size="7.4" text-anchor="end" fill="#1a1a1a" stroke="#1a1a1a" stroke-width="0.18">2.7</text>
<text transform="translate(26.5 327.47) scale(1 1.12)" font-size="7.4" text-anchor="end" fill="#1a1a1a" stroke="#1a1a1a" stroke-width="0.18">2.8</text>
<text transform="translate(26.5 305.29) scale(1 1.12)" font-size="7.4" text-anchor="end" fill="#1a1a1a" stroke="#1a1a1a" stroke-width="0.18">2.9</text>
<text transform="translate(26.5 283.12) scale(1 1.12)" font-size="7.4" text-anchor="end" fill="#1a1a1a" stroke="#1a1a1a" stroke-width="0.18">3.0</text>
<text transform="translate(26.5 260.94) scale(1 1.12)" font-size="7.4" text-anchor="end" fill="#1a1a1a" stroke="#1a1a1a" stroke-width="0.18">3.1</text>
<text transform="translate(26.5 238.77) scale(1 1.12)" font-size="7.4" text-anchor="end" fill="#1a1a1a" stroke="#1a1a1a" stroke-width="0.18">3.2</text>
<text transform="translate(143 439.8) scale(1 1.07)" font-size="9.1" text-anchor="middle" fill="#1a1a1a" stroke="#1a1a1a" stroke-width="0.3">Time (s)</text>
<text transform="translate(129.8 453.2) scale(1 1)" font-size="10.4" text-anchor="middle" font-weight="bold" fill="#111" stroke="#111" stroke-width="0.15">(c)</text>
<text x="0" y="0" font-size="9.2" fill="#1a1a1a" stroke="#1a1a1a" stroke-width="0.3" transform="translate(11.4 365.9) rotate(-90) scale(1 1)">Resistance (K Ohm)</text>
<line x1="343.49" y1="236.8" x2="343.49" y2="412.8" stroke="#c6c6c6" stroke-width="0.8" stroke-dasharray="0.9 1.45"/>
<line x1="367.78" y1="236.8" x2="367.78" y2="412.8" stroke="#c6c6c6" stroke-width="0.8" stroke-dasharray="0.9 1.45"/>
<line x1="392.07" y1="236.8" x2="392.07" y2="412.8" stroke="#c6c6c6" stroke-width="0.8" stroke-dasharray="0.9 1.45"/>
<line x1="416.36" y1="236.8" x2="416.36" y2="412.8" stroke="#c6c6c6" stroke-width="0.8" stroke-dasharray="0.9 1.45"/>
<line x1="440.64" y1="236.8" x2="440.64" y2="412.8" stroke="#c6c6c6" stroke-width="0.8" stroke-dasharray="0.9 1.45"/>
<line x1="464.93" y1="236.8" x2="464.93" y2="412.8" stroke="#c6c6c6" stroke-width="0.8" stroke-dasharray="0.9 1.45"/>
<line x1="489.22" y1="236.8" x2="489.22" y2="412.8" stroke="#c6c6c6" stroke-width="0.8" stroke-dasharray="0.9 1.45"/>
<line x1="513.51" y1="236.8" x2="513.51" y2="412.8" stroke="#c6c6c6" stroke-width="0.8" stroke-dasharray="0.9 1.45"/>
<line x1="319.2" y1="390.8" x2="537.8" y2="390.8" stroke="#c6c6c6" stroke-width="0.8" stroke-dasharray="0.9 1.45"/>
<line x1="319.2" y1="368.8" x2="537.8" y2="368.8" stroke="#c6c6c6" stroke-width="0.8" stroke-dasharray="0.9 1.45"/>
<line x1="319.2" y1="346.8" x2="537.8" y2="346.8" stroke="#c6c6c6" stroke-width="0.8" stroke-dasharray="0.9 1.45"/>
<line x1="319.2" y1="324.8" x2="537.8" y2="324.8" stroke="#c6c6c6" stroke-width="0.8" stroke-dasharray="0.9 1.45"/>
<line x1="319.2" y1="302.8" x2="537.8" y2="302.8" stroke="#c6c6c6" stroke-width="0.8" stroke-dasharray="0.9 1.45"/>
<line x1="319.2" y1="280.8" x2="537.8" y2="280.8" stroke="#c6c6c6" stroke-width="0.8" stroke-dasharray="0.9 1.45"/>
<line x1="319.2" y1="258.8" x2="537.8" y2="258.8" stroke="#c6c6c6" stroke-width="0.8" stroke-dasharray="0.9 1.45"/>
<path d="M318.9,392.5 C319.16,392.37 320.97,391.31 321.5,391.2 C322.03,391.09 323.54,391.19 324.2,391.4 C324.86,391.61 326.98,392.96 328.1,393.3 C329.22,393.64 334.09,394.8 335.4,394.8 C336.71,394.8 339.97,393.77 341.2,393.3 C342.43,392.83 346.6,390.76 347.7,390.1 C348.8,389.44 351.59,388.61 352.2,386.7 C352.81,384.79 353.46,375.19 353.8,371 C354.14,366.81 355.24,351.09 355.6,344.8 C355.96,338.51 357.06,314.39 357.4,308.1 C357.74,301.81 358.66,285.57 359,281.9 C359.34,278.23 360.41,273.05 360.8,271.4 C361.19,269.75 362.45,266.18 362.9,265.4 C363.35,264.62 364.85,263.6 365.3,263.6 C365.75,263.6 366.93,265.14 367.4,265.4 C367.87,265.66 369.21,266.25 370,266.2 C370.79,266.15 374.38,264.95 375.3,264.9 C376.22,264.85 378.16,265.65 379.2,265.7 C380.24,265.75 384.52,265.27 385.7,265.4 C386.88,265.53 390.26,266.4 391,267 C391.74,267.6 392.84,267.55 393.1,271.4 C393.36,275.25 393.47,298.82 393.6,305.5 C393.73,312.18 394.01,333.48 394.4,338.2 C394.79,342.92 396.66,349.68 397.5,352.7 C398.34,355.72 401.75,365.52 402.8,368.4 C403.85,371.28 407.03,379.35 408,381.5 C408.97,383.65 411.32,389.06 412.5,389.9 C413.68,390.74 417.55,389.96 419.8,389.9 C422.05,389.84 432.67,389.54 435,389.3 C437.33,389.06 441.98,387.89 443.1,387.5 C444.22,387.11 445.73,386.53 446.2,385.4 C446.67,384.27 447.46,381.44 447.8,376.2 C448.14,370.96 449.15,338.76 449.6,333 C450.05,327.24 451.72,322.4 452.3,318.6 C452.88,314.8 454.93,299.19 455.4,295 C455.87,290.81 456.66,279.97 457,276.7 C457.34,273.43 458.36,264.14 458.8,262.3 C459.24,260.46 460.74,258.3 461.4,258.3 C462.06,258.3 464.35,261.85 465.4,262.3 C466.45,262.75 470.72,262.67 471.9,262.8 C473.08,262.93 476.15,263.65 477.2,263.6 C478.25,263.55 481.62,262.3 482.4,262.3 C483.18,262.3 484.53,262.69 485,263.6 C485.47,264.51 486.78,269.57 487.1,271.4 C487.42,273.23 487.88,277.18 488.2,281.9 C488.52,286.62 489.83,311 490.3,318.6 C490.77,326.2 492.38,351.61 492.9,357.9 C493.42,364.19 495.03,377.91 495.5,381.5 C495.97,385.09 496.29,392.31 497.6,393.8 C498.91,395.29 506.45,396.03 508.6,396.4 C510.75,396.77 517.53,397.47 519.1,397.5 C520.67,397.53 523.12,397.18 524.3,396.7 C525.48,396.22 529.59,393.36 530.9,392.7 C532.21,392.04 536.75,390.36 537.4,390.1" fill="none" stroke="#2c55c8" stroke-width="1.3" stroke-linejoin="round" stroke-linecap="round"/>
<rect x="352.5" y="263.2" width="11.1" height="131.2" fill="rgba(250,128,80,0.37)"/>
<rect x="391.8" y="263.2" width="20.7" height="131.2" fill="rgba(250,128,80,0.37)"/>
<line x1="352.5" y1="236.8" x2="352.5" y2="412.8" stroke="#ff5a4c" stroke-width="1.1"/>
<line x1="363.6" y1="236.8" x2="363.6" y2="412.8" stroke="#ff5a4c" stroke-width="1.1"/>
<line x1="391.8" y1="236.8" x2="391.8" y2="412.8" stroke="#ff5a4c" stroke-width="1.1"/>
<line x1="412.5" y1="236.8" x2="412.5" y2="412.8" stroke="#ff5a4c" stroke-width="1.1"/>
<line x1="319.2" y1="263.2" x2="537.8" y2="263.2" stroke="#ff5a4c" stroke-width="1.1"/>
<line x1="319.2" y1="394.4" x2="537.8" y2="394.4" stroke="#ff5a4c" stroke-width="1.1"/>
<rect x="319.2" y="236.8" width="218.6" height="176" fill="none" stroke="#333" stroke-width="1.1"/>
<line x1="319.2" y1="412.8" x2="319.2" y2="416.3" stroke="#333" stroke-width="0.9"/>
<line x1="319.2" y1="236.8" x2="319.2" y2="240.3" stroke="#333" stroke-width="0.9"/>
<line x1="343.49" y1="412.8" x2="343.49" y2="416.3" stroke="#333" stroke-width="0.9"/>
<line x1="343.49" y1="236.8" x2="343.49" y2="240.3" stroke="#333" stroke-width="0.9"/>
<line x1="367.78" y1="412.8" x2="367.78" y2="416.3" stroke="#333" stroke-width="0.9"/>
<line x1="367.78" y1="236.8" x2="367.78" y2="240.3" stroke="#333" stroke-width="0.9"/>
<line x1="392.07" y1="412.8" x2="392.07" y2="416.3" stroke="#333" stroke-width="0.9"/>
<line x1="392.07" y1="236.8" x2="392.07" y2="240.3" stroke="#333" stroke-width="0.9"/>
<line x1="416.36" y1="412.8" x2="416.36" y2="416.3" stroke="#333" stroke-width="0.9"/>
<line x1="416.36" y1="236.8" x2="416.36" y2="240.3" stroke="#333" stroke-width="0.9"/>
<line x1="440.64" y1="412.8" x2="440.64" y2="416.3" stroke="#333" stroke-width="0.9"/>
<line x1="440.64" y1="236.8" x2="440.64" y2="240.3" stroke="#333" stroke-width="0.9"/>
<line x1="464.93" y1="412.8" x2="464.93" y2="416.3" stroke="#333" stroke-width="0.9"/>
<line x1="464.93" y1="236.8" x2="464.93" y2="240.3" stroke="#333" stroke-width="0.9"/>
<line x1="489.22" y1="412.8" x2="489.22" y2="416.3" stroke="#333" stroke-width="0.9"/>
<line x1="489.22" y1="236.8" x2="489.22" y2="240.3" stroke="#333" stroke-width="0.9"/>
<line x1="513.51" y1="412.8" x2="513.51" y2="416.3" stroke="#333" stroke-width="0.9"/>
<line x1="513.51" y1="236.8" x2="513.51" y2="240.3" stroke="#333" stroke-width="0.9"/>
<line x1="537.8" y1="412.8" x2="537.8" y2="416.3" stroke="#333" stroke-width="0.9"/>
<line x1="537.8" y1="236.8" x2="537.8" y2="240.3" stroke="#333" stroke-width="0.9"/>
<line x1="331.34" y1="412.8" x2="331.34" y2="414.6" stroke="#333" stroke-width="0.9"/>
<line x1="331.34" y1="236.8" x2="331.34" y2="238.6" stroke="#333" stroke-width="0.9"/>
<line x1="355.63" y1="412.8" x2="355.63" y2="414.6" stroke="#333" stroke-width="0.9"/>
<line x1="355.63" y1="236.8" x2="355.63" y2="238.6" stroke="#333" stroke-width="0.9"/>
<line x1="379.92" y1="412.8" x2="379.92" y2="414.6" stroke="#333" stroke-width="0.9"/>
<line x1="379.92" y1="236.8" x2="379.92" y2="238.6" stroke="#333" stroke-width="0.9"/>
<line x1="404.21" y1="412.8" x2="404.21" y2="414.6" stroke="#333" stroke-width="0.9"/>
<line x1="404.21" y1="236.8" x2="404.21" y2="238.6" stroke="#333" stroke-width="0.9"/>
<line x1="428.5" y1="412.8" x2="428.5" y2="414.6" stroke="#333" stroke-width="0.9"/>
<line x1="428.5" y1="236.8" x2="428.5" y2="238.6" stroke="#333" stroke-width="0.9"/>
<line x1="452.79" y1="412.8" x2="452.79" y2="414.6" stroke="#333" stroke-width="0.9"/>
<line x1="452.79" y1="236.8" x2="452.79" y2="238.6" stroke="#333" stroke-width="0.9"/>
<line x1="477.08" y1="412.8" x2="477.08" y2="414.6" stroke="#333" stroke-width="0.9"/>
<line x1="477.08" y1="236.8" x2="477.08" y2="238.6" stroke="#333" stroke-width="0.9"/>
<line x1="501.37" y1="412.8" x2="501.37" y2="414.6" stroke="#333" stroke-width="0.9"/>
<line x1="501.37" y1="236.8" x2="501.37" y2="238.6" stroke="#333" stroke-width="0.9"/>
<line x1="525.66" y1="412.8" x2="525.66" y2="414.6" stroke="#333" stroke-width="0.9"/>
<line x1="525.66" y1="236.8" x2="525.66" y2="238.6" stroke="#333" stroke-width="0.9"/>
<line x1="315.7" y1="412.8" x2="319.2" y2="412.8" stroke="#333" stroke-width="0.9"/>
<line x1="534.3" y1="412.8" x2="537.8" y2="412.8" stroke="#333" stroke-width="0.9"/>
<line x1="315.7" y1="390.8" x2="319.2" y2="390.8" stroke="#333" stroke-width="0.9"/>
<line x1="534.3" y1="390.8" x2="537.8" y2="390.8" stroke="#333" stroke-width="0.9"/>
<line x1="315.7" y1="368.8" x2="319.2" y2="368.8" stroke="#333" stroke-width="0.9"/>
<line x1="534.3" y1="368.8" x2="537.8" y2="368.8" stroke="#333" stroke-width="0.9"/>
<line x1="315.7" y1="346.8" x2="319.2" y2="346.8" stroke="#333" stroke-width="0.9"/>
<line x1="534.3" y1="346.8" x2="537.8" y2="346.8" stroke="#333" stroke-width="0.9"/>
<line x1="315.7" y1="324.8" x2="319.2" y2="324.8" stroke="#333" stroke-width="0.9"/>
<line x1="534.3" y1="324.8" x2="537.8" y2="324.8" stroke="#333" stroke-width="0.9"/>
<line x1="315.7" y1="302.8" x2="319.2" y2="302.8" stroke="#333" stroke-width="0.9"/>
<line x1="534.3" y1="302.8" x2="537.8" y2="302.8" stroke="#333" stroke-width="0.9"/>
<line x1="315.7" y1="280.8" x2="319.2" y2="280.8" stroke="#333" stroke-width="0.9"/>
<line x1="534.3" y1="280.8" x2="537.8" y2="280.8" stroke="#333" stroke-width="0.9"/>
<line x1="315.7" y1="258.8" x2="319.2" y2="258.8" stroke="#333" stroke-width="0.9"/>
<line x1="534.3" y1="258.8" x2="537.8" y2="258.8" stroke="#333" stroke-width="0.9"/>
<line x1="315.7" y1="236.8" x2="319.2" y2="236.8" stroke="#333" stroke-width="0.9"/>
<line x1="534.3" y1="236.8" x2="537.8" y2="236.8" stroke="#333" stroke-width="0.9"/>
<line x1="317.4" y1="401.8" x2="319.2" y2="401.8" stroke="#333" stroke-width="0.9"/>
<line x1="536" y1="401.8" x2="537.8" y2="401.8" stroke="#333" stroke-width="0.9"/>
<line x1="317.4" y1="379.8" x2="319.2" y2="379.8" stroke="#333" stroke-width="0.9"/>
<line x1="536" y1="379.8" x2="537.8" y2="379.8" stroke="#333" stroke-width="0.9"/>
<line x1="317.4" y1="357.8" x2="319.2" y2="357.8" stroke="#333" stroke-width="0.9"/>
<line x1="536" y1="357.8" x2="537.8" y2="357.8" stroke="#333" stroke-width="0.9"/>
<line x1="317.4" y1="335.8" x2="319.2" y2="335.8" stroke="#333" stroke-width="0.9"/>
<line x1="536" y1="335.8" x2="537.8" y2="335.8" stroke="#333" stroke-width="0.9"/>
<line x1="317.4" y1="313.8" x2="319.2" y2="313.8" stroke="#333" stroke-width="0.9"/>
<line x1="536" y1="313.8" x2="537.8" y2="313.8" stroke="#333" stroke-width="0.9"/>
<line x1="317.4" y1="291.8" x2="319.2" y2="291.8" stroke="#333" stroke-width="0.9"/>
<line x1="536" y1="291.8" x2="537.8" y2="291.8" stroke="#333" stroke-width="0.9"/>
<line x1="317.4" y1="269.8" x2="319.2" y2="269.8" stroke="#333" stroke-width="0.9"/>
<line x1="536" y1="269.8" x2="537.8" y2="269.8" stroke="#333" stroke-width="0.9"/>
<line x1="317.4" y1="247.8" x2="319.2" y2="247.8" stroke="#333" stroke-width="0.9"/>
<line x1="536" y1="247.8" x2="537.8" y2="247.8" stroke="#333" stroke-width="0.9"/>
<text transform="translate(319.2 425) scale(1 1.12)" font-size="7.4" text-anchor="middle" fill="#1a1a1a" stroke="#1a1a1a" stroke-width="0.18">0</text>
<text transform="translate(343.49 425) scale(1 1.12)" font-size="7.4" text-anchor="middle" fill="#1a1a1a" stroke="#1a1a1a" stroke-width="0.18">10</text>
<text transform="translate(367.78 425) scale(1 1.12)" font-size="7.4" text-anchor="middle" fill="#1a1a1a" stroke="#1a1a1a" stroke-width="0.18">20</text>
<text transform="translate(392.07 425) scale(1 1.12)" font-size="7.4" text-anchor="middle" fill="#1a1a1a" stroke="#1a1a1a" stroke-width="0.18">30</text>
<text transform="translate(416.36 425) scale(1 1.12)" font-size="7.4" text-anchor="middle" fill="#1a1a1a" stroke="#1a1a1a" stroke-width="0.18">40</text>
<text transform="translate(440.64 425) scale(1 1.12)" font-size="7.4" text-anchor="middle" fill="#1a1a1a" stroke="#1a1a1a" stroke-width="0.18">50</text>
<text transform="translate(464.93 425) scale(1 1.12)" font-size="7.4" text-anchor="middle" fill="#1a1a1a" stroke="#1a1a1a" stroke-width="0.18">60</text>
<text transform="translate(489.22 425) scale(1 1.12)" font-size="7.4" text-anchor="middle" fill="#1a1a1a" stroke="#1a1a1a" stroke-width="0.18">70</text>
<text transform="translate(513.51 425) scale(1 1.12)" font-size="7.4" text-anchor="middle" fill="#1a1a1a" stroke="#1a1a1a" stroke-width="0.18">80</text>
<text transform="translate(537.8 425) scale(1 1.12)" font-size="7.4" text-anchor="middle" fill="#1a1a1a" stroke="#1a1a1a" stroke-width="0.18">90</text>
<text transform="translate(313.8 415.67) scale(1 1.12)" font-size="7.4" text-anchor="end" fill="#1a1a1a" stroke="#1a1a1a" stroke-width="0.18">2.4</text>
<text transform="translate(313.8 393.67) scale(1 1.12)" font-size="7.4" text-anchor="end" fill="#1a1a1a" stroke="#1a1a1a" stroke-width="0.18">2.5</text>
<text transform="translate(313.8 371.67) scale(1 1.12)" font-size="7.4" text-anchor="end" fill="#1a1a1a" stroke="#1a1a1a" stroke-width="0.18">2.6</text>
<text transform="translate(313.8 349.67) scale(1 1.12)" font-size="7.4" text-anchor="end" fill="#1a1a1a" stroke="#1a1a1a" stroke-width="0.18">2.7</text>
<text transform="translate(313.8 327.67) scale(1 1.12)" font-size="7.4" text-anchor="end" fill="#1a1a1a" stroke="#1a1a1a" stroke-width="0.18">2.8</text>
<text transform="translate(313.8 305.67) scale(1 1.12)" font-size="7.4" text-anchor="end" fill="#1a1a1a" stroke="#1a1a1a" stroke-width="0.18">2.9</text>
<text transform="translate(313.8 283.67) scale(1 1.12)" font-size="7.4" text-anchor="end" fill="#1a1a1a" stroke="#1a1a1a" stroke-width="0.18">3.0</text>
<text transform="translate(313.8 261.67) scale(1 1.12)" font-size="7.4" text-anchor="end" fill="#1a1a1a" stroke="#1a1a1a" stroke-width="0.18">3.1</text>
<text transform="translate(313.8 239.67) scale(1 1.12)" font-size="7.4" text-anchor="end" fill="#1a1a1a" stroke="#1a1a1a" stroke-width="0.18">3.2</text>
<text transform="translate(327.4 255.1) scale(1 1.07)" font-size="6.65" text-anchor="start" font-weight="bold" fill="#3338a8" stroke="#3338a8" stroke-width="0.1">Transient Reponse</text>
<text transform="translate(357.8 401.4) scale(1 1.07)" font-size="6.8" text-anchor="middle" font-weight="bold" fill="#222" stroke="#222" stroke-width="0.3">4s</text>
<text transform="translate(402.8 401.8) scale(1 1.07)" font-size="6.8" text-anchor="middle" font-weight="bold" fill="#222" stroke="#222" stroke-width="0.3">8s</text>
<text transform="translate(428.7 438.6) scale(1 1.07)" font-size="9.1" text-anchor="middle" fill="#1a1a1a" stroke="#1a1a1a" stroke-width="0.3">Time (s)</text>
<text transform="translate(422.15 453) scale(1 1)" font-size="10.4" text-anchor="middle" font-weight="bold" fill="#111" stroke="#111" stroke-width="0.15">(d)</text>
<text x="0" y="0" font-size="9.2" fill="#1a1a1a" stroke="#1a1a1a" stroke-width="0.3" transform="translate(295.5 361.9) rotate(-90) scale(1 1)">Resistance (K Ohm)</text>
<line x1="108.75" y1="292.5" x2="319.2" y2="236.8" stroke="#ff2222" stroke-width="1.6" stroke-dasharray="2.1 1.3" stroke-linecap="butt"/>
<line x1="108.75" y1="406.8" x2="319.2" y2="411.5" stroke="#ff2222" stroke-width="1.6" stroke-dasharray="2.1 1.3" stroke-linecap="butt"/>
<polyline points="188.47,619.08 242.97,578.03 279.3,551.65 315.63,522.33 370.13,478.36" fill="none" stroke="#ff2020" stroke-width="1.5" stroke-linejoin="round" stroke-linecap="round"/>
<polyline points="188.47,622.01 242.97,583.9 279.3,557.51 315.63,519.4 370.13,481.29" fill="none" stroke="#000" stroke-width="1.5" stroke-linejoin="round" stroke-linecap="round"/>
<circle cx="188.47" cy="619.08" r="2.42" fill="#ff2020"/>
<circle cx="242.97" cy="578.03" r="2.42" fill="#ff2020"/>
<circle cx="279.3" cy="551.65" r="2.42" fill="#ff2020"/>
<circle cx="315.63" cy="522.33" r="2.42" fill="#ff2020"/>
<circle cx="370.13" cy="478.36" r="2.42" fill="#ff2020"/>
<rect x="186.37" y="619.91" width="4.2" height="4.2" fill="#000"/>
<rect x="240.87" y="581.8" width="4.2" height="4.2" fill="#000"/>
<rect x="277.2" y="555.41" width="4.2" height="4.2" fill="#000"/>
<rect x="313.53" y="517.3" width="4.2" height="4.2" fill="#000"/>
<rect x="368.03" y="479.19" width="4.2" height="4.2" fill="#000"/>
<rect x="170.3" y="463.7" width="218" height="175.9" fill="none" stroke="#333" stroke-width="1.1"/>
<line x1="188.47" y1="639.6" x2="188.47" y2="643.1" stroke="#333" stroke-width="0.9"/>
<line x1="188.47" y1="463.7" x2="188.47" y2="467.2" stroke="#333" stroke-width="0.9"/>
<line x1="224.8" y1="639.6" x2="224.8" y2="643.1" stroke="#333" stroke-width="0.9"/>
<line x1="224.8" y1="463.7" x2="224.8" y2="467.2" stroke="#333" stroke-width="0.9"/>
<line x1="261.13" y1="639.6" x2="261.13" y2="643.1" stroke="#333" stroke-width="0.9"/>
<line x1="261.13" y1="463.7" x2="261.13" y2="467.2" stroke="#333" stroke-width="0.9"/>
<line x1="297.47" y1="639.6" x2="297.47" y2="643.1" stroke="#333" stroke-width="0.9"/>
<line x1="297.47" y1="463.7" x2="297.47" y2="467.2" stroke="#333" stroke-width="0.9"/>
<line x1="333.8" y1="639.6" x2="333.8" y2="643.1" stroke="#333" stroke-width="0.9"/>
<line x1="333.8" y1="463.7" x2="333.8" y2="467.2" stroke="#333" stroke-width="0.9"/>
<line x1="370.13" y1="639.6" x2="370.13" y2="643.1" stroke="#333" stroke-width="0.9"/>
<line x1="370.13" y1="463.7" x2="370.13" y2="467.2" stroke="#333" stroke-width="0.9"/>
<line x1="170.3" y1="639.6" x2="170.3" y2="641.4" stroke="#333" stroke-width="0.9"/>
<line x1="170.3" y1="463.7" x2="170.3" y2="465.5" stroke="#333" stroke-width="0.9"/>
<line x1="206.63" y1="639.6" x2="206.63" y2="641.4" stroke="#333" stroke-width="0.9"/>
<line x1="206.63" y1="463.7" x2="206.63" y2="465.5" stroke="#333" stroke-width="0.9"/>
<line x1="242.97" y1="639.6" x2="242.97" y2="641.4" stroke="#333" stroke-width="0.9"/>
<line x1="242.97" y1="463.7" x2="242.97" y2="465.5" stroke="#333" stroke-width="0.9"/>
<line x1="279.3" y1="639.6" x2="279.3" y2="641.4" stroke="#333" stroke-width="0.9"/>
<line x1="279.3" y1="463.7" x2="279.3" y2="465.5" stroke="#333" stroke-width="0.9"/>
<line x1="315.63" y1="639.6" x2="315.63" y2="641.4" stroke="#333" stroke-width="0.9"/>
<line x1="315.63" y1="463.7" x2="315.63" y2="465.5" stroke="#333" stroke-width="0.9"/>
<line x1="351.97" y1="639.6" x2="351.97" y2="641.4" stroke="#333" stroke-width="0.9"/>
<line x1="351.97" y1="463.7" x2="351.97" y2="465.5" stroke="#333" stroke-width="0.9"/>
<line x1="388.3" y1="639.6" x2="388.3" y2="641.4" stroke="#333" stroke-width="0.9"/>
<line x1="388.3" y1="463.7" x2="388.3" y2="465.5" stroke="#333" stroke-width="0.9"/>
<line x1="166.8" y1="624.94" x2="170.3" y2="624.94" stroke="#333" stroke-width="0.9"/>
<line x1="384.8" y1="624.94" x2="388.3" y2="624.94" stroke="#333" stroke-width="0.9"/>
<line x1="166.8" y1="595.62" x2="170.3" y2="595.62" stroke="#333" stroke-width="0.9"/>
<line x1="384.8" y1="595.62" x2="388.3" y2="595.62" stroke="#333" stroke-width="0.9"/>
<line x1="166.8" y1="566.31" x2="170.3" y2="566.31" stroke="#333" stroke-width="0.9"/>
<line x1="384.8" y1="566.31" x2="388.3" y2="566.31" stroke="#333" stroke-width="0.9"/>
<line x1="166.8" y1="536.99" x2="170.3" y2="536.99" stroke="#333" stroke-width="0.9"/>
<line x1="384.8" y1="536.99" x2="388.3" y2="536.99" stroke="#333" stroke-width="0.9"/>
<line x1="166.8" y1="507.67" x2="170.3" y2="507.67" stroke="#333" stroke-width="0.9"/>
<line x1="384.8" y1="507.67" x2="388.3" y2="507.67" stroke="#333" stroke-width="0.9"/>
<line x1="166.8" y1="478.36" x2="170.3" y2="478.36" stroke="#333" stroke-width="0.9"/>
<line x1="384.8" y1="478.36" x2="388.3" y2="478.36" stroke="#333" stroke-width="0.9"/>
<line x1="168.5" y1="639.6" x2="170.3" y2="639.6" stroke="#333" stroke-width="0.9"/>
<line x1="386.5" y1="639.6" x2="388.3" y2="639.6" stroke="#333" stroke-width="0.9"/>
<line x1="168.5" y1="610.28" x2="170.3" y2="610.28" stroke="#333" stroke-width="0.9"/>
<line x1="386.5" y1="610.28" x2="388.3" y2="610.28" stroke="#333" stroke-width="0.9"/>
<line x1="168.5" y1="580.97" x2="170.3" y2="580.97" stroke="#333" stroke-width="0.9"/>
<line x1="386.5" y1="580.97" x2="388.3" y2="580.97" stroke="#333" stroke-width="0.9"/>
<line x1="168.5" y1="551.65" x2="170.3" y2="551.65" stroke="#333" stroke-width="0.9"/>
<line x1="386.5" y1="551.65" x2="388.3" y2="551.65" stroke="#333" stroke-width="0.9"/>
<line x1="168.5" y1="522.33" x2="170.3" y2="522.33" stroke="#333" stroke-width="0.9"/>
<line x1="386.5" y1="522.33" x2="388.3" y2="522.33" stroke="#333" stroke-width="0.9"/>
<line x1="168.5" y1="493.02" x2="170.3" y2="493.02" stroke="#333" stroke-width="0.9"/>
<line x1="386.5" y1="493.02" x2="388.3" y2="493.02" stroke="#333" stroke-width="0.9"/>
<line x1="168.5" y1="463.7" x2="170.3" y2="463.7" stroke="#333" stroke-width="0.9"/>
<line x1="386.5" y1="463.7" x2="388.3" y2="463.7" stroke="#333" stroke-width="0.9"/>
<text transform="translate(188.47 652.2) scale(1 1.12)" font-size="7.4" text-anchor="middle" fill="#1a1a1a" stroke="#1a1a1a" stroke-width="0.18">10</text>
<text transform="translate(224.8 652.2) scale(1 1.12)" font-size="7.4" text-anchor="middle" fill="#1a1a1a" stroke="#1a1a1a" stroke-width="0.18">20</text>
<text transform="translate(261.13 652.2) scale(1 1.12)" font-size="7.4" text-anchor="middle" fill="#1a1a1a" stroke="#1a1a1a" stroke-width="0.18">30</text>
<text transform="translate(297.47 652.2) scale(1 1.12)" font-size="7.4" text-anchor="middle" fill="#1a1a1a" stroke="#1a1a1a" stroke-width="0.18">40</text>
<text transform="translate(333.8 652.2) scale(1 1.12)" font-size="7.4" text-anchor="middle" fill="#1a1a1a" stroke="#1a1a1a" stroke-width="0.18">50</text>
<text transform="translate(370.13 652.2) scale(1 1.12)" font-size="7.4" text-anchor="middle" fill="#1a1a1a" stroke="#1a1a1a" stroke-width="0.18">60</text>
<text transform="translate(164.3 627.81) scale(1 1.12)" font-size="7.4" text-anchor="end" fill="#1a1a1a" stroke="#1a1a1a" stroke-width="0.18">10</text>
<text transform="translate(164.3 598.49) scale(1 1.12)" font-size="7.4" text-anchor="end" fill="#1a1a1a" stroke="#1a1a1a" stroke-width="0.18">20</text>
<text transform="translate(164.3 569.18) scale(1 1.12)" font-size="7.4" text-anchor="end" fill="#1a1a1a" stroke="#1a1a1a" stroke-width="0.18">30</text>
<text transform="translate(164.3 539.86) scale(1 1.12)" font-size="7.4" text-anchor="end" fill="#1a1a1a" stroke="#1a1a1a" stroke-width="0.18">40</text>
<text transform="translate(164.3 510.54) scale(1 1.12)" font-size="7.4" text-anchor="end" fill="#1a1a1a" stroke="#1a1a1a" stroke-width="0.18">50</text>
<text transform="translate(164.3 481.23) scale(1 1.12)" font-size="7.4" text-anchor="end" fill="#1a1a1a" stroke="#1a1a1a" stroke-width="0.18">60</text>
<rect x="189.2" y="485.5" width="78.5" height="23.5" fill="#fff" stroke="#bdbdbd" stroke-width="0.9"/>
<line x1="190.5" y1="492" x2="211.2" y2="492" stroke="#000" stroke-width="1.3"/>
<rect x="199.1" y="490.1" width="3.8" height="3.8" fill="#000"/>
<line x1="190.5" y1="503.2" x2="211.2" y2="503.2" stroke="#ff2020" stroke-width="1.3"/>
<circle cx="201" cy="503.2" r="1.98" fill="#ff2020"/>
<text transform="translate(214.4 495.3) scale(1 1.07)" font-size="8.8" text-anchor="start" fill="#1a1a1a" stroke="#1a1a1a" stroke-width="0.3">B</text>
<text transform="translate(221.5 495) scale(1 1.07)" font-size="6.5" text-anchor="start" font-weight="bold" fill="#1a1a1a" stroke="#1a1a1a" stroke-width="0.3">Reference</text>
<text transform="translate(214.6 506.3) scale(1 1.07)" font-size="9.1" text-anchor="start" fill="#1a1a1a" stroke="#1a1a1a" stroke-width="0.3">Temperature</text>
<text transform="translate(215.6 523.2) scale(1 1.07)" font-size="6.65" text-anchor="start" font-weight="bold" fill="#111" stroke="#111" stroke-width="0.1">L=2 D=1 Fabricated</text>
<text transform="translate(309.3 599.9) scale(1 1.07)" font-size="8.85" text-anchor="start" font-weight="bold" fill="#111" stroke="#111" stroke-width="0.12">y = mx+c</text>
<text transform="translate(309.3 609.75) scale(1 1.07)" font-size="8.85" text-anchor="start" font-weight="bold" fill="#111" stroke="#111" stroke-width="0.12">x = (y-c)/m</text>
<text transform="translate(309.3 619.6) scale(1 1.07)" font-size="8.85" text-anchor="start" font-weight="bold" fill="#111" stroke="#111" stroke-width="0.12">y: Resistance</text>
<text transform="translate(309.3 629.45) scale(1 1.07)" font-size="8.85" text-anchor="start" font-weight="bold" fill="#111" stroke="#111" stroke-width="0.12">x: Temperature</text>
<text transform="translate(279.5 665.3) scale(1 1.07)" font-size="9.2" text-anchor="middle" fill="#1a1a1a" stroke="#1a1a1a" stroke-width="0.3">Temperature (Degree)</text>
<text transform="translate(265.25 679) scale(1 1)" font-size="10.4" text-anchor="middle" font-weight="bold" fill="#111" stroke="#111" stroke-width="0.15">(e)</text>
<text x="0" y="0" font-size="9.25" fill="#1a1a1a" stroke="#1a1a1a" stroke-width="0.3" transform="translate(151.8 596.9) rotate(-90) scale(1 1)">Temperature (Degree)</text>
</svg>
</body></html>
